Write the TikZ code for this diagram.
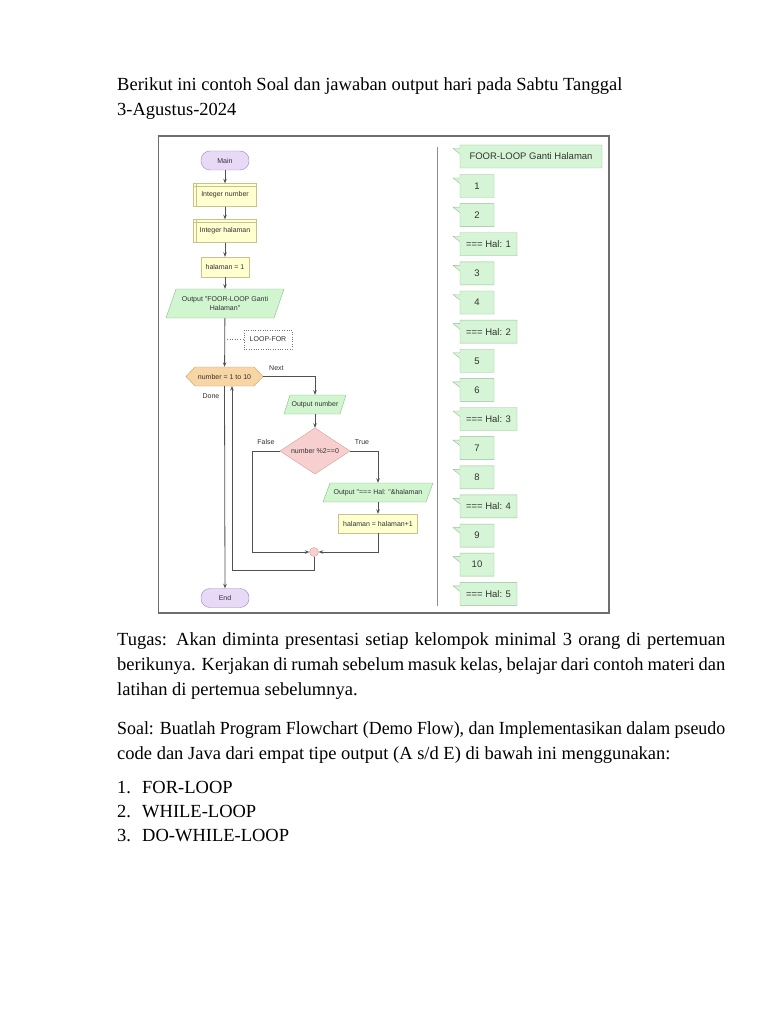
\documentclass[tikz,border=0pt]{standalone}
\usepackage{fontspec}
\usepackage{graphicx}
\setmainfont{Liberation Serif}
\newfontfamily\fcfont{Liberation Sans}
\usetikzlibrary{arrows.meta}
\definecolor{termfill}{RGB}{232,217,247}
\definecolor{termdraw}{RGB}{156,135,190}
\definecolor{yelfill}{RGB}{255,255,208}
\definecolor{yeldraw}{RGB}{196,196,140}
\definecolor{grnfill}{RGB}{208,245,207}
\definecolor{grndraw}{RGB}{141,186,140}
\definecolor{orfill}{RGB}{248,213,165}
\definecolor{ordraw}{RGB}{212,160,98}
\definecolor{pkfill}{RGB}{248,207,207}
\definecolor{pkdraw}{RGB}{213,156,156}
\definecolor{cofill}{RGB}{214,245,214}
\definecolor{codraw}{RGB}{150,192,150}
\definecolor{linegray}{RGB}{80,80,80}
\definecolor{framegray}{RGB}{110,110,110}
\definecolor{txtgray}{RGB}{50,50,50}
\begin{document}
\begin{tikzpicture}[x=1pt,y=-1pt,
  body/.style={anchor=base west, inner sep=0, font=\fontsize{18.5}{22}\selectfont, text=black},
  fctext/.style={font=\fcfont\fontsize{7}{8.5}\selectfont, text=txtgray, align=center, inner sep=0},
  term/.style={fctext, draw=termdraw, fill=termfill, rounded corners=9pt, minimum width=48pt, minimum height=19pt},
  decl/.style={fctext, draw=yeldraw, fill=yelfill, minimum width=63pt, minimum height=23pt},
  proc/.style={fctext, draw=yeldraw, fill=yelfill, minimum height=19pt},
  shapebox/.style={fctext},
  paraL/.style={draw=grndraw, fill=grnfill},
  hexL/.style={draw=ordraw, fill=orfill},
  diaL/.style={draw=pkdraw, fill=pkfill},
  flow/.style={draw=linegray, line width=0.8pt, -{Stealth[length=4.5pt,width=3.5pt]}},
  plain/.style={draw=linegray, line width=0.8pt},
  lbl/.style={fctext},
  coL/.style={draw=codraw, fill=cofill},
  cotext/.style={font=\fcfont\fontsize{9.5}{11}\selectfont, text=txtgray, inner sep=0}
]
\useasboundingbox[fill=white] (0,0) rectangle (768,1024);

% ---------- body text ----------
\node[body] (t1) at (117,91) {Berikut ini contoh Soal dan jawaban output hari pada Sabtu Tanggal};
\node[body] (t2) at (117,115.5) {3-Agustus-2024};

\node[body] (p1) at (117,645) {\makebox[608pt][s]{Tugas: Akan diminta presentasi setiap kelompok minimal 3 orang di pertemuan}};
\node[body] (p2) at (117,670) {\makebox[608pt][s]{berikunya. Kerjakan di rumah sebelum masuk kelas, belajar dari contoh materi dan}};
\node[body] (p3) at (117,695) {latihan di pertemua sebelumnya.};

\node[body] (s1) at (117,734) {\resizebox{608pt}{\height}{Soal: Buatlah Program Flowchart (Demo Flow), dan Implementasikan dalam pseudo}};
\node[body] (s2) at (117,759) {code dan Java dari empat tipe output (A s/d E) di bawah ini menggunakan:};

\node[body] (n1) at (117,793) {1.};
\node[body] (l1) at (142,793) {FOR-LOOP};
\node[body] (n2) at (117,817) {2.};
\node[body] (l2) at (142,817) {WHILE-LOOP};
\node[body] (n3) at (117,841) {3.};
\node[body] (l3) at (142,841) {DO-WHILE-LOOP};

% ---------- frame ----------
\draw[framegray, line width=0.6pt] (158,136) rectangle (609,613);
\draw[framegray, line width=1.6pt] (157.5,136) -- (609,136) -- (609,613);
\draw[framegray, line width=1.2pt] (158,613) -- (609,613);
\draw[black!45, line width=0.7pt] (437,147) -- (437,606);

% ---------- flowchart shapes ----------
\node[term] (main) at (225,160.5) {Main};
\node[decl] (int1) at (225,195) {Integer number};
\draw[yeldraw] ([yshift=-3pt]int1.north west) -- ([yshift=-3pt]int1.north east);
\draw[yeldraw] ([xshift=3pt]int1.north west) -- ([xshift=3pt]int1.south west);
\node[decl] (int2) at (225,231) {Integer halaman};
\draw[yeldraw] ([yshift=-3pt]int2.north west) -- ([yshift=-3pt]int2.north east);
\draw[yeldraw] ([xshift=3pt]int2.north west) -- ([xshift=3pt]int2.south west);
\node[proc, minimum width=48pt, minimum height=20pt] (hal1) at (225,267) {halaman = 1};

\filldraw[paraL] (176,289) -- (284,289) -- (274,318) -- (166,318) -- cycle;
\node[shapebox, minimum width=100pt, minimum height=29pt] (out1) at (225,303.5) {Output "FOOR-LOOP Ganti\\Halaman"};

\node[fctext, draw=black!55, dotted, minimum width=48pt, minimum height=19pt] (loopfor) at (268,339.5) {LOOP-FOR};
\coordinate (lfs) at (227,339.5);

\filldraw[hexL] (186,376.5) -- (195,367) -- (254,367) -- (263,376.5) -- (254,386) -- (195,386) -- cycle;
\node[shapebox, minimum width=77pt, minimum height=19pt] (hex) at (224.5,376.5) {number = 1 to 10};

\filldraw[paraL] (290,395) -- (346,395) -- (340,414) -- (284,414) -- cycle;
\node[shapebox, minimum width=56pt, minimum height=19pt] (outn) at (315,404.5) {Output number};

\filldraw[diaL] (280,451) -- (315,428) -- (350,451) -- (315,474) -- cycle;
\node[shapebox, minimum width=70pt, minimum height=46pt] (dia) at (315,451) {number \%2==0};

\filldraw[paraL] (330,483) -- (433,483) -- (426,502) -- (323,502) -- cycle;
\node[shapebox, minimum width=103pt, minimum height=19pt] (outh) at (378,492.5) {Output "=== Hal: "\&halaman};

\node[proc, minimum width=79pt] (inc) at (378,523.5) {halaman = halaman+1};

\node[circle, draw=pkdraw, fill=pkfill, minimum size=9pt, inner sep=0] (circ) at (314,552) {};

\node[term] (end) at (225,598) {End};

% labels
\node[lbl, anchor=west] (next) at (269,368) {Next};
\node[lbl] (done) at (211,396) {Done};
\node[lbl] (false) at (266,442) {False};
\node[lbl] (true) at (362,442) {True};

% ---------- connectors ----------
\draw[flow] (main) -- (int1);
\draw[flow] (int1) -- (int2);
\draw[flow] (int2) -- (hal1);
\draw[flow] (hal1) -- (out1);
\draw[flow] (out1) -- (hex);
\draw[black!55, dotted, line width=0.6pt] (lfs) -- (loopfor.west);
\draw[flow] (hex.east) -| (outn.north);
\draw[flow] (outn) -- (dia);
\draw[flow] (dia.west) -| (252,552) -- (circ.west);
\draw[flow] (dia.east) -| (outh.north);
\draw[flow] (outh) -- (inc);
\draw[flow] (inc.south) |- (circ.east);
\draw[flow] (circ.south) |- (232,570) -- (232,386);
\draw[flow] (hex.south) -- (end.north);

% ---------- output console ----------
\foreach \t/\w [count=\i] in {FOOR-LOOP Ganti Halaman/142, 1/34, 2/34, {=== Hal: 1}/57, 3/34, 4/34, {=== Hal: 2}/57, 5/34, 6/34, {=== Hal: 3}/57, 7/34, 8/34, {=== Hal: 4}/57, 9/34, 10/34, {=== Hal: 5}/57}{
  \pgfmathsetmacro{\yc}{\i==1 ? 156.5 : 186+(\i-2)*29.13}
  \pgfmathsetmacro{\ya}{\yc-11.5}
  \pgfmathsetmacro{\yb}{\yc+11.5}
  \pgfmathsetmacro{\xr}{460+\w}
  \filldraw[coL] (460,\ya) -- (\xr,\ya) -- (\xr,\yb) -- (460,\yb) -- (460,\ya+9) -- (453,\ya+3.5) -- (460,\ya+3.5) -- cycle;
  \node[cotext] (c\i) at (460+\w/2,\yc) {\t};
}
\end{tikzpicture}
\end{document}
